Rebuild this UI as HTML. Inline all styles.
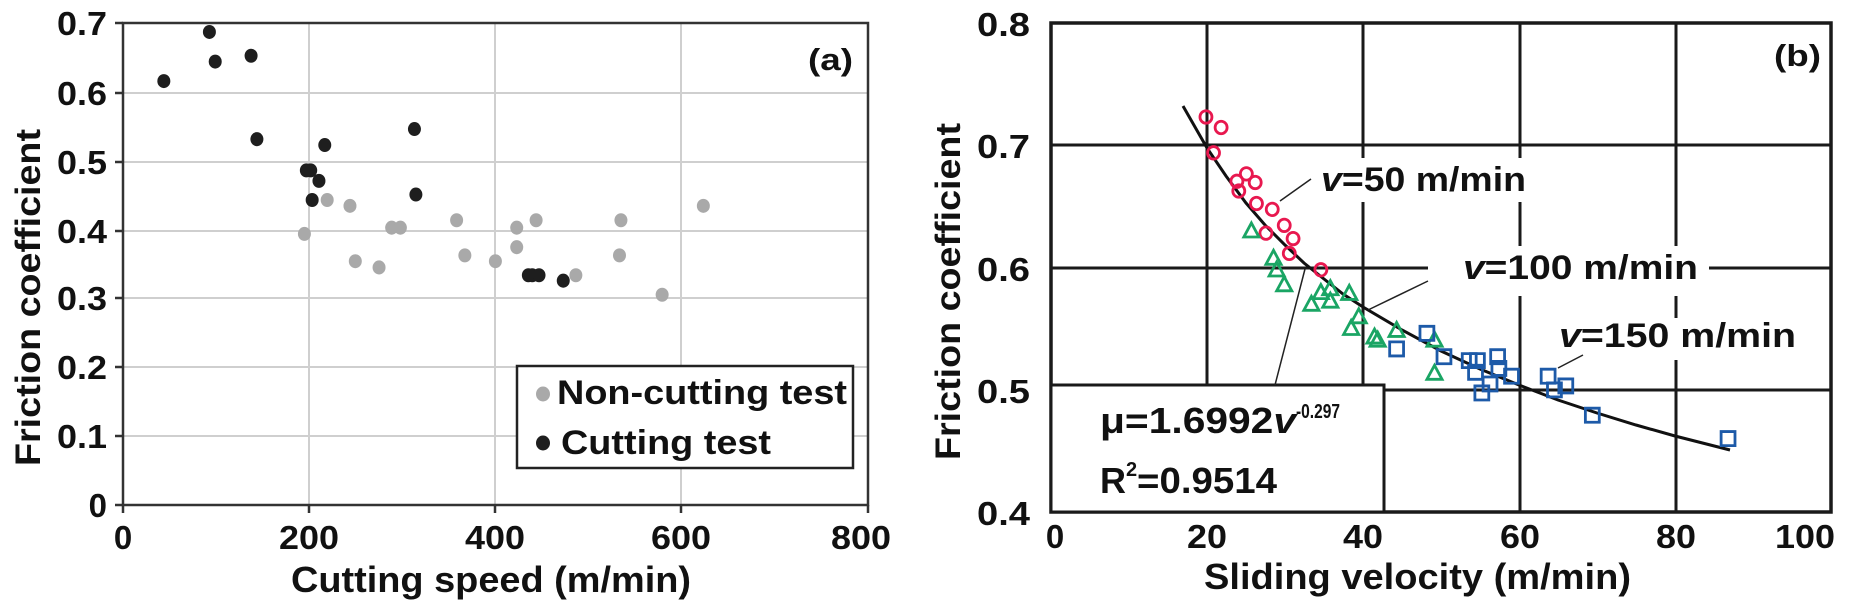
<!DOCTYPE html>
<html><head><meta charset="utf-8"><style>
html,body{margin:0;padding:0;background:#fff;}
svg{display:block;}
text{font-family:"Liberation Sans Narrow","Liberation Sans",sans-serif;font-weight:bold;fill:#111;}
</style></head><body>
<svg width="1850" height="616" viewBox="0 0 1850 616" xmlns="http://www.w3.org/2000/svg">
<rect width="1850" height="616" fill="#fff"/>
<!-- Panel A -->
<g stroke="#cfcfcf" stroke-width="2">
<line x1="123" y1="93" x2="868" y2="93"/><line x1="123" y1="162" x2="868" y2="162"/>
<line x1="123" y1="231" x2="868" y2="231"/><line x1="123" y1="298" x2="868" y2="298"/>
<line x1="123" y1="367" x2="868" y2="367"/><line x1="123" y1="436" x2="868" y2="436"/>
<line x1="309" y1="23" x2="309" y2="505"/><line x1="495" y1="23" x2="495" y2="505"/>
<line x1="681" y1="23" x2="681" y2="505"/>
</g>
<rect x="123" y="23" width="745" height="482" fill="none" stroke="#333" stroke-width="2.5"/>
<g stroke="#333" stroke-width="2.5">
<line x1="115" y1="23" x2="123" y2="23"/><line x1="115" y1="93" x2="123" y2="93"/><line x1="115" y1="162" x2="123" y2="162"/><line x1="115" y1="231" x2="123" y2="231"/><line x1="115" y1="298" x2="123" y2="298"/><line x1="115" y1="367" x2="123" y2="367"/><line x1="115" y1="436" x2="123" y2="436"/><line x1="115" y1="505" x2="123" y2="505"/>
<line x1="123" y1="505" x2="123" y2="513"/><line x1="309" y1="505" x2="309" y2="513"/><line x1="495" y1="505" x2="495" y2="513"/><line x1="681" y1="505" x2="681" y2="513"/><line x1="868" y1="505" x2="868" y2="513"/>
</g>
<g font-size="33" text-anchor="end">
<text x="107" y="35" textLength="50" lengthAdjust="spacingAndGlyphs">0.7</text>
<text x="107" y="105" textLength="50" lengthAdjust="spacingAndGlyphs">0.6</text>
<text x="107" y="174" textLength="50" lengthAdjust="spacingAndGlyphs">0.5</text>
<text x="107" y="243" textLength="50" lengthAdjust="spacingAndGlyphs">0.4</text>
<text x="107" y="310" textLength="50" lengthAdjust="spacingAndGlyphs">0.3</text>
<text x="107" y="379" textLength="50" lengthAdjust="spacingAndGlyphs">0.2</text>
<text x="107" y="448" textLength="50" lengthAdjust="spacingAndGlyphs">0.1</text>
<text x="107" y="517">0</text>
</g>
<g font-size="33" text-anchor="middle">
<text x="123" y="549">0</text>
<text x="309" y="549" textLength="60" lengthAdjust="spacingAndGlyphs">200</text>
<text x="495" y="549" textLength="60" lengthAdjust="spacingAndGlyphs">400</text>
<text x="681" y="549" textLength="60" lengthAdjust="spacingAndGlyphs">600</text>
<text x="861" y="549" textLength="60" lengthAdjust="spacingAndGlyphs">800</text>
</g>
<text x="291" y="592" font-size="36" textLength="400" lengthAdjust="spacingAndGlyphs">Cutting speed (m/min)</text>
<text transform="translate(40,466) rotate(-90)" font-size="35" style="font-family:'Liberation Sans',sans-serif" textLength="337" lengthAdjust="spacingAndGlyphs">Friction coefficient</text>
<text x="808" y="70" font-size="31" textLength="45" lengthAdjust="spacingAndGlyphs">(a)</text>
<g transform="scale(0.48473,0.38986)">
<g fill="#a9a9a9">
<ellipse cx="628" cy="600" rx="13.4" ry="18"/><ellipse cx="675" cy="513" rx="13.4" ry="18"/><ellipse cx="722" cy="528" rx="13.4" ry="18"/><ellipse cx="733" cy="670" rx="13.4" ry="18"/><ellipse cx="782" cy="686" rx="13.4" ry="18"/><ellipse cx="808" cy="584" rx="13.4" ry="18"/><ellipse cx="826" cy="584" rx="13.4" ry="18"/><ellipse cx="942" cy="565" rx="13.4" ry="18"/><ellipse cx="959" cy="655" rx="13.4" ry="18"/><ellipse cx="1022" cy="670" rx="13.4" ry="18"/><ellipse cx="1066" cy="584" rx="13.4" ry="18"/><ellipse cx="1066" cy="634" rx="13.4" ry="18"/><ellipse cx="1106" cy="565" rx="13.4" ry="18"/><ellipse cx="1188" cy="706" rx="13.4" ry="18"/><ellipse cx="1278" cy="655" rx="13.4" ry="18"/><ellipse cx="1281" cy="565" rx="13.4" ry="18"/><ellipse cx="1366" cy="756" rx="13.4" ry="18"/><ellipse cx="1451" cy="528" rx="13.4" ry="18"/>
</g>
<g fill="#1e1e1e">
<ellipse cx="338" cy="208" rx="13.4" ry="18"/><ellipse cx="432" cy="82" rx="13.4" ry="18"/><ellipse cx="444" cy="158" rx="13.4" ry="18"/><ellipse cx="518" cy="143" rx="13.4" ry="18"/><ellipse cx="530" cy="357" rx="13.4" ry="18"/><ellipse cx="670" cy="372" rx="13.4" ry="18"/><ellipse cx="632" cy="437" rx="13.4" ry="18"/><ellipse cx="641" cy="437" rx="13.4" ry="18"/><ellipse cx="658" cy="464" rx="13.4" ry="18"/><ellipse cx="644" cy="513" rx="13.4" ry="18"/><ellipse cx="855" cy="331" rx="13.4" ry="18"/><ellipse cx="858" cy="499" rx="13.4" ry="18"/><ellipse cx="1090" cy="706" rx="13.4" ry="18"/><ellipse cx="1098" cy="706" rx="13.4" ry="18"/><ellipse cx="1112" cy="706" rx="13.4" ry="18"/><ellipse cx="1162" cy="720" rx="13.4" ry="18"/>
</g>
</g>
<rect x="517" y="366" width="336" height="102" fill="#fff" stroke="#222" stroke-width="2.5"/>
<ellipse cx="543" cy="394" rx="7" ry="7.5" fill="#a9a9a9"/>
<ellipse cx="543" cy="443" rx="7" ry="7.5" fill="#1e1e1e"/>
<text x="557" y="404" font-size="34" textLength="290" lengthAdjust="spacingAndGlyphs">Non-cutting test</text>
<text x="561" y="454" font-size="34" textLength="210" lengthAdjust="spacingAndGlyphs">Cutting test</text>

<!-- Panel B -->
<g stroke="#1a1a1a" stroke-width="3">
<line x1="1051" y1="145" x2="1831" y2="145"/><line x1="1051" y1="268" x2="1831" y2="268"/><line x1="1051" y1="390" x2="1831" y2="390"/>
<line x1="1207" y1="23" x2="1207" y2="512"/><line x1="1363" y1="23" x2="1363" y2="512"/><line x1="1520" y1="23" x2="1520" y2="512"/><line x1="1676" y1="23" x2="1676" y2="512"/>
</g>
<rect x="1051" y="23" width="780" height="489" fill="none" stroke="#1a1a1a" stroke-width="3.5"/>
<rect x="1318" y="158" width="212" height="44" fill="#fff"/>
<rect x="1428" y="246" width="281" height="50" fill="#fff"/>
<rect x="1555" y="318" width="195" height="42" fill="#fff"/>
<rect x="1051" y="385" width="333" height="127" fill="#fff" stroke="#1a1a1a" stroke-width="3"/>
<g font-size="33" text-anchor="end">
<text x="1030" y="36" textLength="53" lengthAdjust="spacingAndGlyphs">0.8</text>
<text x="1030" y="158" textLength="53" lengthAdjust="spacingAndGlyphs">0.7</text>
<text x="1030" y="281" textLength="53" lengthAdjust="spacingAndGlyphs">0.6</text>
<text x="1030" y="403" textLength="53" lengthAdjust="spacingAndGlyphs">0.5</text>
<text x="1030" y="525" textLength="53" lengthAdjust="spacingAndGlyphs">0.4</text>
</g>
<g font-size="33" text-anchor="middle">
<text x="1055" y="548">0</text>
<text x="1207" y="548" textLength="40" lengthAdjust="spacingAndGlyphs">20</text>
<text x="1363" y="548" textLength="40" lengthAdjust="spacingAndGlyphs">40</text>
<text x="1520" y="548" textLength="40" lengthAdjust="spacingAndGlyphs">60</text>
<text x="1676" y="548" textLength="40" lengthAdjust="spacingAndGlyphs">80</text>
<text x="1805" y="548" textLength="60" lengthAdjust="spacingAndGlyphs">100</text>
</g>
<text x="1204" y="589" font-size="36" textLength="427" lengthAdjust="spacingAndGlyphs">Sliding velocity (m/min)</text>
<text transform="translate(960,460) rotate(-90)" font-size="35" style="font-family:'Liberation Sans',sans-serif" textLength="337" lengthAdjust="spacingAndGlyphs">Friction coefficient</text>
<text x="1774" y="66" font-size="31" textLength="47" lengthAdjust="spacingAndGlyphs">(b)</text>
<polyline fill="none" stroke="#111" stroke-width="3" points="1183,106 1195,127 1207,148 1226,176 1246,203 1265,225 1285,245 1304,263 1324,279 1343,294 1363,307 1402,330 1441,351 1480,369 1519,385 1558,400 1597,413 1636,425 1675,436 1730,450"/>
<g stroke="#222" stroke-width="1.5" fill="none">
<line x1="1275" y1="385" x2="1305" y2="269"/>
<line x1="1280" y1="201" x2="1311" y2="179"/>
<line x1="1368" y1="310" x2="1428" y2="281"/>
<line x1="1558" y1="368" x2="1583" y2="355"/>
</g>
<g transform="translate(860,0) scale(0.63131,0.38986)">
<g fill="none" stroke="#e8184f" stroke-width="2.8">
<ellipse vector-effect="non-scaling-stroke" cx="548" cy="300" rx="9.5" ry="16"/><ellipse vector-effect="non-scaling-stroke" cx="572" cy="327" rx="9.5" ry="16"/><ellipse vector-effect="non-scaling-stroke" cx="560" cy="392" rx="9.5" ry="16"/><ellipse vector-effect="non-scaling-stroke" cx="612" cy="446" rx="9.5" ry="16"/><ellipse vector-effect="non-scaling-stroke" cx="597" cy="465" rx="9.5" ry="16"/><ellipse vector-effect="non-scaling-stroke" cx="600" cy="490" rx="9.5" ry="16"/><ellipse vector-effect="non-scaling-stroke" cx="626" cy="468" rx="9.5" ry="16"/><ellipse vector-effect="non-scaling-stroke" cx="628" cy="522" rx="9.5" ry="16"/><ellipse vector-effect="non-scaling-stroke" cx="653" cy="537" rx="9.5" ry="16"/><ellipse vector-effect="non-scaling-stroke" cx="643" cy="598" rx="9.5" ry="16"/><ellipse vector-effect="non-scaling-stroke" cx="672" cy="578" rx="9.5" ry="16"/><ellipse vector-effect="non-scaling-stroke" cx="686" cy="612" rx="9.5" ry="16"/><ellipse vector-effect="non-scaling-stroke" cx="680" cy="650" rx="9.5" ry="16"/><ellipse vector-effect="non-scaling-stroke" cx="730" cy="692" rx="9.5" ry="16"/>
</g>
<g fill="none" stroke="#1aa564" stroke-width="2.8">
<path vector-effect="non-scaling-stroke" d="M620 572 l12 36 h-24 z"/><path vector-effect="non-scaling-stroke" d="M655 642 l12 36 h-24 z"/><path vector-effect="non-scaling-stroke" d="M660 672 l12 36 h-24 z"/><path vector-effect="non-scaling-stroke" d="M672 710 l12 36 h-24 z"/><path vector-effect="non-scaling-stroke" d="M715 760 l12 36 h-24 z"/><path vector-effect="non-scaling-stroke" d="M730 730 l12 36 h-24 z"/><path vector-effect="non-scaling-stroke" d="M745 720 l12 36 h-24 z"/><path vector-effect="non-scaling-stroke" d="M745 752 l12 36 h-24 z"/><path vector-effect="non-scaling-stroke" d="M775 732 l12 36 h-24 z"/><path vector-effect="non-scaling-stroke" d="M790 792 l12 36 h-24 z"/><path vector-effect="non-scaling-stroke" d="M778 822 l12 36 h-24 z"/><path vector-effect="non-scaling-stroke" d="M815 844 l12 36 h-24 z"/><path vector-effect="non-scaling-stroke" d="M820 852 l12 36 h-24 z"/><path vector-effect="non-scaling-stroke" d="M850 827 l12 36 h-24 z"/><path vector-effect="non-scaling-stroke" d="M910 852 l12 36 h-24 z"/><path vector-effect="non-scaling-stroke" d="M910 937 l12 36 h-24 z"/>
</g>
<g fill="none" stroke="#1d5aa8" stroke-width="2.8">
<path vector-effect="non-scaling-stroke" d="M839 877 h22 v36 h-22 z"/><path vector-effect="non-scaling-stroke" d="M887 837 h22 v36 h-22 z"/><path vector-effect="non-scaling-stroke" d="M914 897 h22 v36 h-22 z"/><path vector-effect="non-scaling-stroke" d="M954 907 h22 v36 h-22 z"/><path vector-effect="non-scaling-stroke" d="M967 907 h22 v36 h-22 z"/><path vector-effect="non-scaling-stroke" d="M964 937 h22 v36 h-22 z"/><path vector-effect="non-scaling-stroke" d="M974 990 h22 v36 h-22 z"/><path vector-effect="non-scaling-stroke" d="M987 967 h22 v36 h-22 z"/><path vector-effect="non-scaling-stroke" d="M999 897 h22 v36 h-22 z"/><path vector-effect="non-scaling-stroke" d="M1001 927 h22 v36 h-22 z"/><path vector-effect="non-scaling-stroke" d="M1021 947 h22 v36 h-22 z"/><path vector-effect="non-scaling-stroke" d="M1079 947 h22 v36 h-22 z"/><path vector-effect="non-scaling-stroke" d="M1089 982 h22 v36 h-22 z"/><path vector-effect="non-scaling-stroke" d="M1107 972 h22 v36 h-22 z"/><path vector-effect="non-scaling-stroke" d="M1149 1047 h22 v36 h-22 z"/><path vector-effect="non-scaling-stroke" d="M1364 1107 h22 v36 h-22 z"/>
</g>
</g>
<text x="1321" y="191" font-size="34" textLength="205" lengthAdjust="spacingAndGlyphs"><tspan font-style="italic">v</tspan>=50 m/min</text>
<text x="1463" y="279" font-size="34" textLength="235" lengthAdjust="spacingAndGlyphs"><tspan font-style="italic">v</tspan>=100 m/min</text>
<text x="1559" y="347" font-size="34" textLength="237" lengthAdjust="spacingAndGlyphs"><tspan font-style="italic">v</tspan>=150 m/min</text>
<text x="1100" y="433" font-size="36" textLength="196" lengthAdjust="spacingAndGlyphs">μ=1.6992<tspan font-style="italic">v</tspan></text>
<text x="1296" y="418" font-size="20" textLength="44" lengthAdjust="spacingAndGlyphs">-0.297</text>
<text x="1100" y="493" font-size="36" textLength="26" lengthAdjust="spacingAndGlyphs">R</text>
<text x="1126" y="476" font-size="20">2</text>
<text x="1137" y="493" font-size="36" textLength="140" lengthAdjust="spacingAndGlyphs">=0.9514</text>
</svg>
</body></html>
